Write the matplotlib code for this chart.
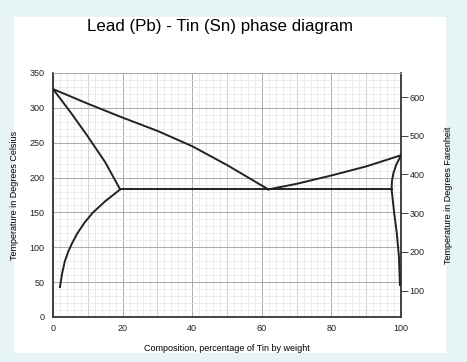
import matplotlib
matplotlib.use("Agg")
import matplotlib.pyplot as plt
from matplotlib.patches import Rectangle
from matplotlib.ticker import MultipleLocator

plt.rcParams['font.family'] = ['Liberation Sans', 'DejaVu Sans']

# composition (% Sn) and temperature (deg C)
liq_left_x = [0, 10, 20, 30, 40, 50, 61.9]
liq_left_t = [327, 306, 286, 267, 245, 218, 183]
liq_right_x = [61.9, 70, 80, 90, 100]
liq_right_t = [183, 191, 203, 216, 232]
sol_left_x = [0, 5, 10, 15, 19.3]
sol_left_t = [327, 294, 259, 222, 183]
solv_left_x = [2, 2.6, 3.4, 4.4, 5.5, 7, 9, 11.5, 15, 19.3]
solv_left_t = [43, 62, 80, 94, 106, 120, 135, 150, 166, 183]
eut_x = [19.3, 97.3]
eut_t = [183, 183]
sol_right_x = [100, 98.6, 97.8, 97.4, 97.3]
sol_right_t = [232, 218, 206, 195, 183]
solv_right_x = [97.3, 98.0, 98.8, 99.4, 99.7]
solv_right_t = [183, 151, 120, 87, 46]

x_ticks = [0, 20, 40, 60, 80, 100]
c_ticks = [0, 50, 100, 150, 200, 250, 300, 350]
f_ticks = [100, 200, 300, 400, 500, 600]

fig = plt.figure(figsize=(4.67, 3.62), dpi=100)
fig.patch.set_facecolor('#e6f4f6')
fig.patches.append(Rectangle((14 / 467, 1 - 353 / 362), 432 / 467, 336 / 362,
                             transform=fig.transFigure, facecolor='white',
                             edgecolor='none', zorder=-5))
fig.text(220 / 467, 1 - 27 / 362, 'Lead (Pb) - Tin (Sn) phase diagram',
         ha='center', va='center', fontsize=12.2)

ax = fig.add_axes([53 / 467, 1 - 317 / 362, 348 / 467, 244 / 362])
ax.set_facecolor('white')
for xs, ts in [(liq_left_x, liq_left_t), (liq_right_x, liq_right_t),
               (sol_left_x, sol_left_t), (solv_left_x, solv_left_t),
               (eut_x, eut_t), (sol_right_x, sol_right_t),
               (solv_right_x, solv_right_t)]:
    ax.plot(xs, ts, color='#222222', lw=1.4, zorder=3, solid_joinstyle='round')

ax.set_xlim(0, 100)
ax.set_ylim(0, 350)
ax.set_xticks(x_ticks)
ax.set_yticks(c_ticks)
ax.xaxis.set_minor_locator(MultipleLocator(2))
ax.yaxis.set_minor_locator(MultipleLocator(10))
ax.grid(which='minor', color='#e4e4e4', lw=0.5)
ax.grid(which='major', color='#aaaaaa', lw=0.7)
ax.set_axisbelow(True)
# major vertical grid every 10
for gx in range(10, 100, 20):
    ax.axvline(gx, color='#aaaaaa', lw=0.7, zorder=0.5)
ax.tick_params(which='both', length=0, labelsize=6.5, colors='#222222', pad=6)
ax.tick_params(axis='x', pad=5)
for s in ['left', 'bottom', 'right']:
    ax.spines[s].set_linewidth(1.3)
    ax.spines[s].set_color('#333333')
ax.spines['top'].set_color('#aaaaaa')
ax.spines['top'].set_linewidth(0.7)
ax.set_xlabel('Composition, percentage of Tin by weight', fontsize=6.5, labelpad=8)
ax.set_ylabel('Temperature in Degrees Celsius', fontsize=6.5, labelpad=8)

ax2 = ax.twinx()
ax2.set_ylim(32, 350 * 9 / 5 + 32)
ax2.set_yticks(f_ticks)
ax2.tick_params(length=5, width=0.6, labelsize=6.5, colors='#222222', pad=1)
for s in ax2.spines.values():
    s.set_visible(False)
ax2.set_ylabel('Temperature in Degrees Farenheit', fontsize=6.5, labelpad=14,
               rotation=90)

fig.savefig('out.png', dpi=100, facecolor=fig.get_facecolor())
